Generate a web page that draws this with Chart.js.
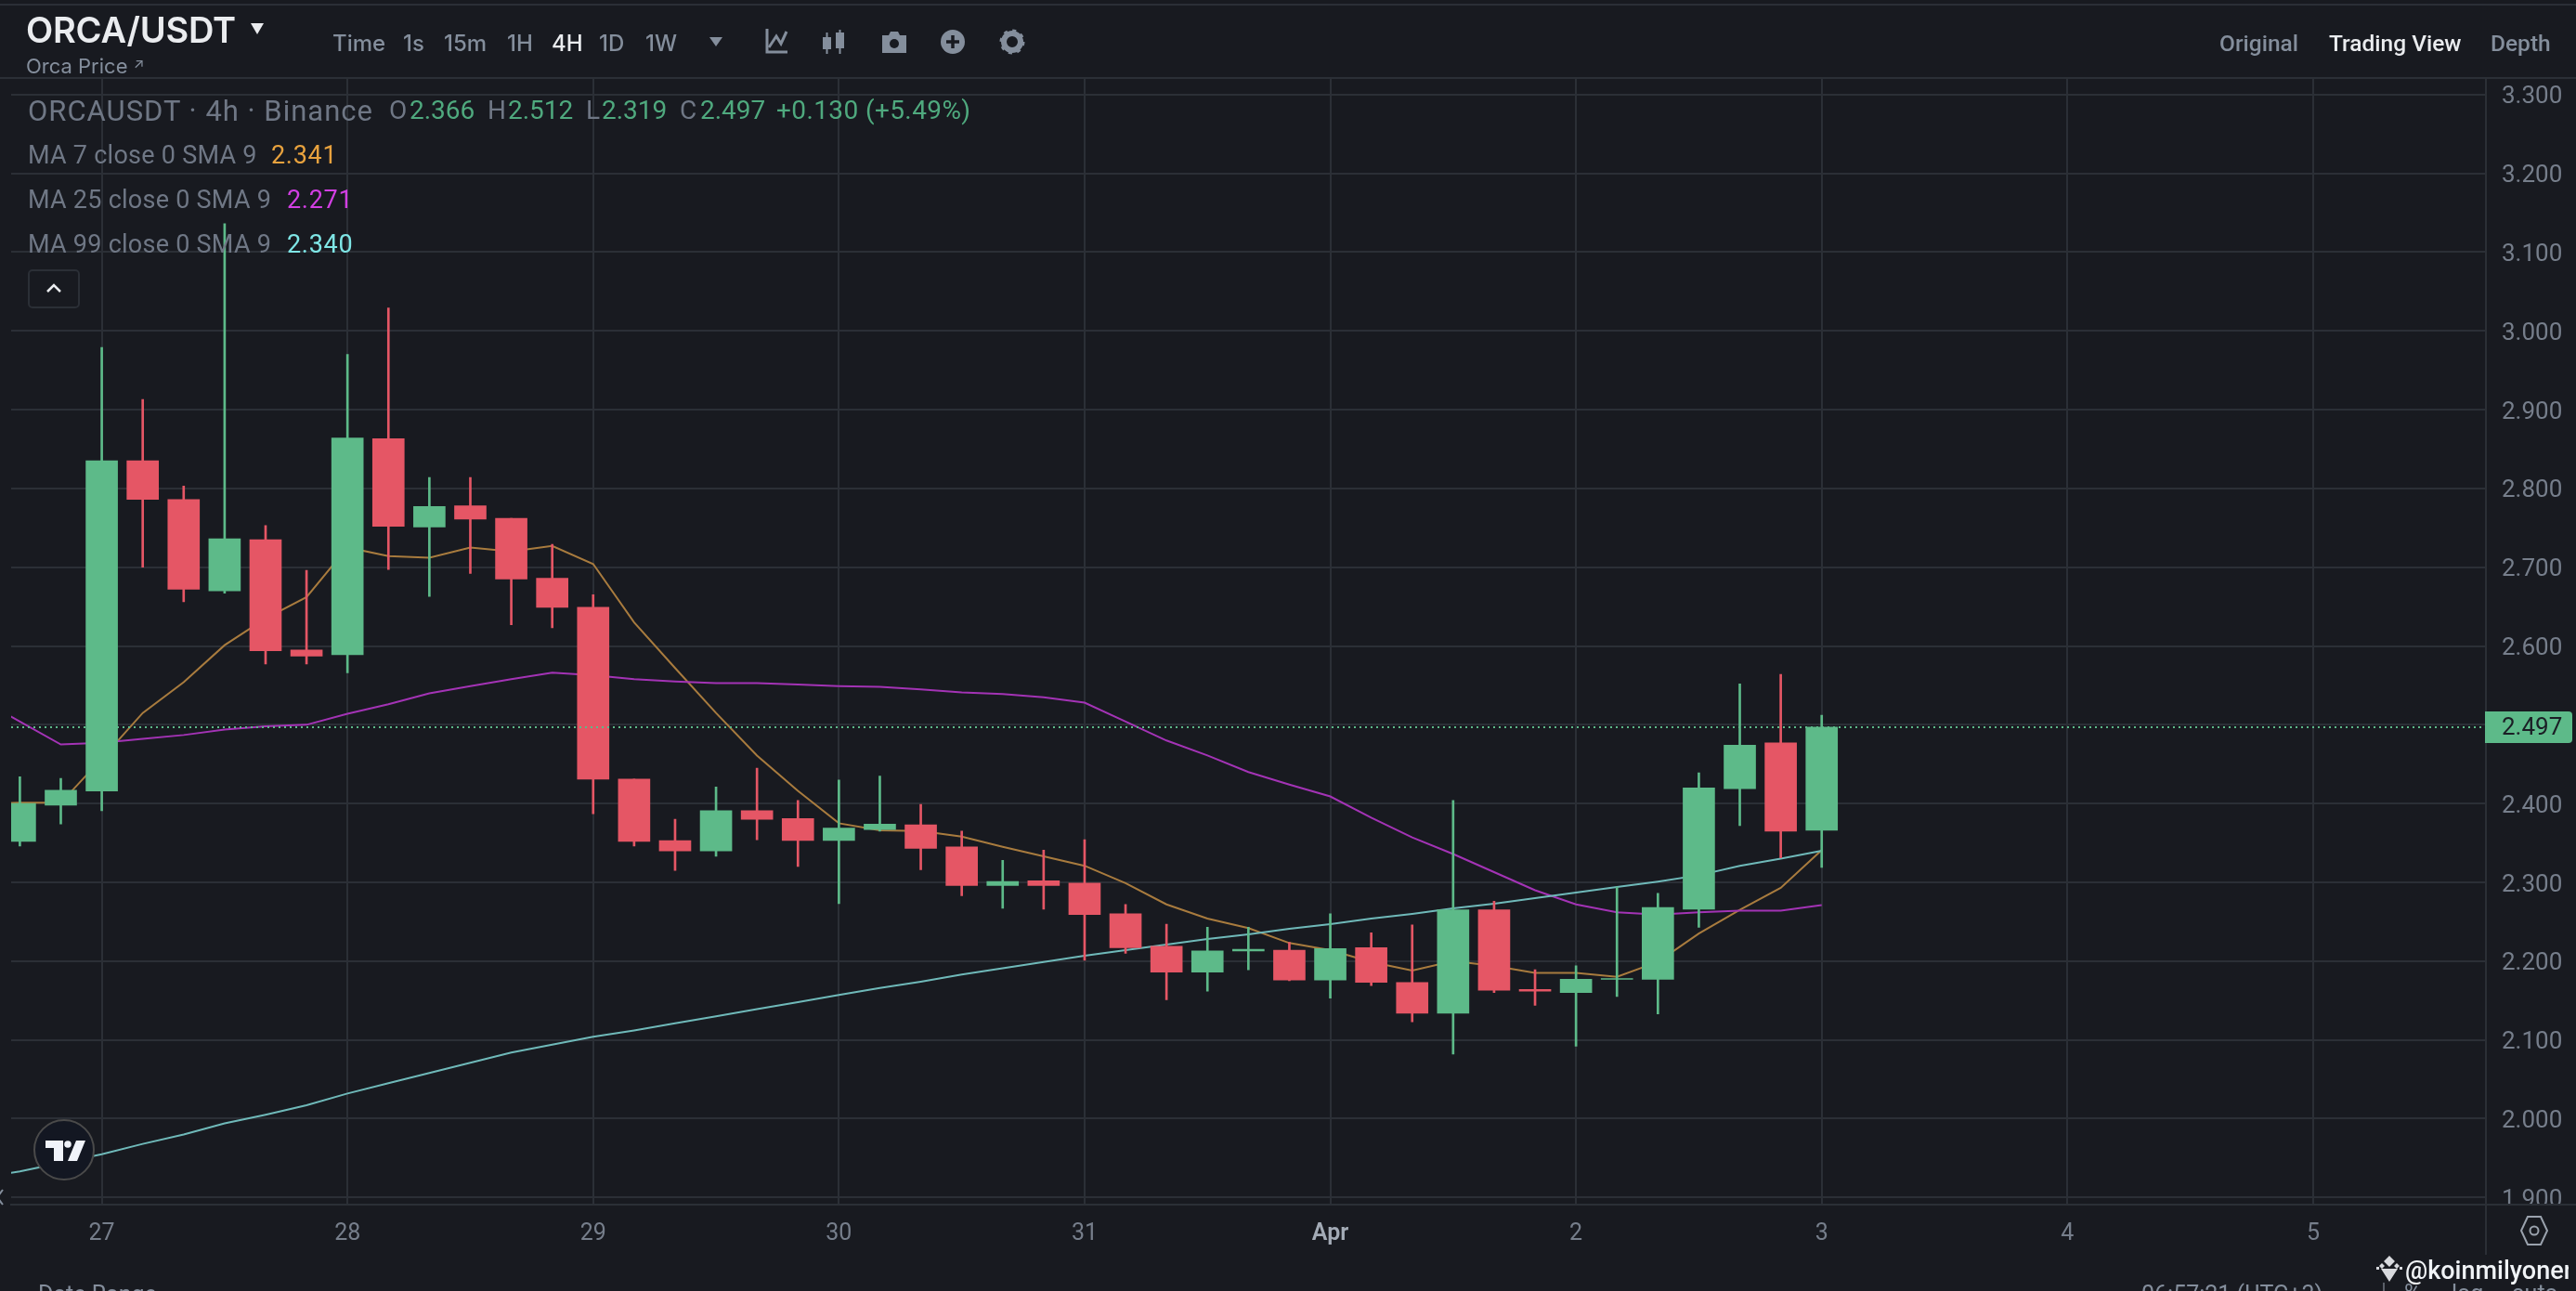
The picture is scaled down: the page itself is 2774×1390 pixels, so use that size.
<!DOCTYPE html>
<html><head><meta charset="utf-8">
<script src="https://cdn.jsdelivr.net/npm/chart.js@4"></script>
<style>
html,body{margin:0;padding:0;background:#181a20;width:2774px;height:1390px;overflow:hidden}
canvas{position:absolute;left:0;top:0}
.t{position:absolute;white-space:nowrap;transform:translateY(-50%);font-family:"Roboto",sans-serif;color:#848e9c;line-height:1}
.p{font-family:"Inter","Roboto",sans-serif;font-weight:500}
.r{font-family:"Roboto",sans-serif;font-weight:500;font-size:24.500px}
.m{font-size:27px;letter-spacing:.25px;color:#6f7785}
.v{font-size:27px;letter-spacing:.7px}
.l{position:absolute;background:#2b2f36}
svg{position:absolute;overflow:visible}
</style></head><body>
<canvas id="c" width="2774" height="1390"></canvas>

<div class="l" style="left:0;top:4px;width:2774px;height:2px"></div>
<div class="l" style="left:0;top:83px;width:2774px;height:2px"></div>
<div class="l" style="left:12px;top:1296px;width:2762px;height:2px"></div>
<div class="l" style="left:2676px;top:1296px;width:2px;height:55px"></div>

<div class="t" style="left:28px;top:32px;font:600 38px 'Inter',sans-serif;color:#eaecef;letter-spacing:-.2px">ORCA/USDT</div>
<svg style="left:270px;top:25px" width="14" height="12"><path d="M0 0H14L7 12Z" fill="#eaecef"/></svg>
<div class="t" style="left:28px;top:71px;font:400 22px 'Inter',sans-serif">Orca Price <span style="font-size:15px;vertical-align:5px">↗</span></div>

<div class="t p" style="left:358px;top:47px;font-size:24px">Time</div>
<div class="t p" style="left:434px;top:47px;font-size:24px">1s</div>
<div class="t p" style="left:478px;top:47px;font-size:24px">15m</div>
<div class="t p" style="left:546px;top:47px;font-size:24px">1H</div>
<div class="t p" style="left:594px;top:47px;font-size:24px;color:#eaecef">4H</div>
<div class="t p" style="left:645px;top:47px;font-size:24px">1D</div>
<div class="t p" style="left:695px;top:47px;font-size:24px">1W</div>
<svg style="left:764px;top:40px" width="14" height="10"><path d="M0 0H14L7 10Z" fill="#848e9c"/></svg>
<svg style="left:824px;top:31px" width="24" height="28" fill="none" stroke="#848e9c" stroke-width="3"><path d="M2 0V25H24"/><path d="M4 20L12 8L17 16L23 3"/></svg>
<svg style="left:885px;top:32px" width="28" height="26" fill="#848e9c"><rect x="1" y="8" width="9" height="13"/><rect x="4.5" y="3" width="2" height="23"/><rect x="15" y="3" width="9" height="17"/><rect x="18.500" y="0" width="2" height="26"/></svg>
<svg style="left:950px;top:33px" width="26" height="24" fill="#848e9c"><path d="M0 5H7L9 1H17L19 5H26V24H0Z"/><circle cx="13" cy="14" r="5" fill="#181a20"/></svg>
<svg style="left:1013px;top:32px" width="26" height="26"><circle cx="13" cy="13" r="13" fill="#848e9c"/><path d="M13 6V20M6 13H20" stroke="#181a20" stroke-width="3.500"/></svg>
<svg style="left:1077px;top:32px" width="26" height="26"><circle cx="13" cy="13" r="9" fill="none" stroke="#848e9c" stroke-width="6"/><circle cx="13" cy="13" r="12" fill="none" stroke="#848e9c" stroke-width="3" stroke-dasharray="4 5.400"/></svg>

<div class="t r" style="left:2390px;top:47px">Original</div>
<div class="t r" style="left:2508px;top:47px;color:#eaecef">Trading View</div>
<div class="t r" style="left:2682px;top:47px">Depth</div>

<div class="t" style="left:30px;top:119px;font-size:31px;letter-spacing:1px;color:#6f7785">ORCAUSDT · 4h · Binance</div>
<div id="ohlc"></div>
<div class="t m" style="left:30px;top:167px">MA 7 close 0 SMA 9</div>
<div class="t v" style="left:292px;top:167px;color:#e8a23e">2.341</div>
<div class="t m" style="left:30px;top:215px">MA 25 close 0 SMA 9</div>
<div class="t v" style="left:309px;top:215px;color:#d23fe3">2.271</div>
<div class="t m" style="left:30px;top:263px">MA 99 close 0 SMA 9</div>
<div class="t v" style="left:309px;top:263px;color:#7fe6e6">2.340</div>
<div style="position:absolute;left:30px;top:290px;width:56px;height:42px;border:2px solid #2b2f36;border-radius:5px;box-sizing:border-box;background:#181a20"></div>
<svg style="left:50px;top:305px" width="16" height="10" fill="none" stroke="#eaecef" stroke-width="2.500"><path d="M1 9L8 2L15 9"/></svg>

<svg style="left:36px;top:1205px" width="66" height="66"><circle cx="33" cy="33" r="32" fill="#131722" stroke="#4a4a4a" stroke-width="2"/>
<path d="M13 23H32V45H22V31H13Z M46 23H56L47 45H37Z" fill="#f0f3fa"/><circle cx="37" cy="27" r="3.800" fill="#f0f3fa"/></svg>

<svg style="left:0;top:1280px" width="4" height="18" fill="none" stroke="#848e9c" stroke-width="2"><path d="M3 1L-3 9L3 17"/></svg>

<svg style="left:2714px;top:1309px" width="30" height="32" fill="none" stroke="#9aa2ad" stroke-width="2"><path d="M8 1H22L29 16L22 31H8L1 16Z"/><circle cx="15" cy="16" r="4.500"/></svg>

<div class="t" style="left:41px;top:1393px;font-size:25px">Date Range ⌄</div>
<div class="t" style="left:2306px;top:1393px;font-size:25px">06:57:21 (UTC+3)</div>
<div class="l" style="left:2566px;top:1377px;width:2px;height:20px;background:#5a5f68"></div>
<div class="t" style="left:2589px;top:1392px;font-size:25px">%</div>
<div class="t" style="left:2640px;top:1392px;font-size:25px">log</div>
<div class="t" style="left:2705px;top:1392px;font-size:25px">auto</div>

<div style="position:absolute;left:2558px;top:1351px;width:216px;height:30px;background:#181a20"></div>
<svg style="left:2559px;top:1352px" width="28" height="28" fill="#d8dade"><path d="M14 0L20 6L14 12L8 6Z M6 8L9 11L6 14L3 11Z M22 8L25 11L22 14L19 11Z M14 14L23 14L14 28L5 14Z"/><rect x="0" y="12" width="3" height="3"/><rect x="25" y="12" width="3" height="3"/></svg>
<div style="position:absolute;left:2590px;top:1352px;width:176px;height:32px;overflow:hidden;font:500 27px/32px 'Roboto',sans-serif;color:#f0f3f6;white-space:nowrap">@koinmilyoner</div>

<script>
// Candle slot: 0 is the 27th at 00:00, six 4h candles per day.
const firstCandle = -2;
const opens  = [2.352,2.398,2.416,2.835,2.786,2.670,2.735,2.595,2.589,2.863,2.751,2.778,2.762,2.686,2.649,2.431,2.353,2.340,2.391,2.381,2.353,2.367,2.373,2.345,2.296,2.302,2.299,2.260,2.219,2.186,2.213,2.214,2.176,2.217,2.173,2.134,2.265,2.164,2.160,2.177,2.177,2.266,2.419,2.477,2.366];
const highs  = [2.434,2.432,2.979,2.913,2.803,3.136,2.753,2.696,2.970,3.029,2.814,2.814,2.762,2.729,2.665,2.431,2.380,2.421,2.445,2.404,2.430,2.435,2.399,2.365,2.328,2.341,2.354,2.272,2.247,2.243,2.243,2.224,2.260,2.236,2.246,2.404,2.276,2.189,2.194,2.294,2.286,2.439,2.552,2.564,2.512];
const lows   = [2.346,2.374,2.391,2.700,2.656,2.667,2.577,2.577,2.566,2.697,2.663,2.692,2.627,2.623,2.387,2.346,2.315,2.333,2.354,2.320,2.273,2.365,2.316,2.283,2.267,2.266,2.201,2.210,2.151,2.162,2.189,2.175,2.153,2.169,2.123,2.082,2.160,2.144,2.092,2.155,2.133,2.243,2.372,2.331,2.319];
const closes = [2.400,2.417,2.835,2.786,2.672,2.736,2.594,2.587,2.864,2.752,2.777,2.761,2.685,2.649,2.431,2.352,2.340,2.391,2.380,2.353,2.369,2.374,2.343,2.296,2.301,2.296,2.259,2.217,2.186,2.213,2.215,2.176,2.216,2.173,2.134,2.265,2.163,2.162,2.177,2.178,2.268,2.420,2.474,2.365,2.497];
const firstAverage = -3;
const ma7  = [2.400,2.401,2.401,2.457,2.515,2.554,2.601,2.635,2.662,2.725,2.714,2.712,2.725,2.720,2.727,2.704,2.630,2.572,2.515,2.461,2.416,2.375,2.366,2.365,2.358,2.345,2.333,2.321,2.299,2.272,2.254,2.242,2.223,2.214,2.199,2.188,2.200,2.194,2.185,2.185,2.180,2.199,2.235,2.265,2.293,2.341];
const ma25 = [2.533,2.504,2.475,2.477,2.482,2.487,2.494,2.498,2.500,2.514,2.526,2.540,2.549,2.558,2.566,2.563,2.558,2.555,2.553,2.553,2.551,2.549,2.548,2.545,2.541,2.539,2.535,2.528,2.504,2.480,2.461,2.440,2.424,2.409,2.382,2.357,2.336,2.313,2.290,2.272,2.262,2.259,2.262,2.264,2.264,2.271];
const ma99 = [1.925,1.933,1.944,1.955,1.968,1.980,1.994,2.005,2.017,2.032,2.045,2.058,2.071,2.084,2.094,2.104,2.112,2.121,2.130,2.139,2.148,2.157,2.166,2.174,2.183,2.191,2.199,2.207,2.214,2.221,2.228,2.234,2.241,2.247,2.254,2.260,2.267,2.273,2.280,2.287,2.294,2.301,2.309,2.321,2.330,2.340];
const dateSlots  = [0,6,12,18,24,30,36,42,48,54];
const dateLabels = ["27","28","29","30","31","Apr","2","3","4","5"];
const priceTicks = [1.9,2.0,2.1,2.2,2.3,2.4,2.5,2.6,2.7,2.8,2.9,3.0,3.1,3.2,3.3];
const ohlcLegend = [["O",419,"2.366"],["H",525,"2.512"],["L",631,"2.319"],["C",732,"2.497"]];
const changeText = "+0.130 (+5.49%)";

const BG="#181a20",GRID="#2b2f36",UP="#5dba89",DOWN="#e55665",AXIS="#767e8b";
const last = closes[closes.length-1];

// OHLC legend row
document.getElementById("ohlc").innerHTML = ohlcLegend.map(([k,x,v]) =>
  `<div class="t" style="left:${x}px;top:119px;font-size:28px;color:#6f7785">${k}</div>`+
  `<div class="t" style="left:${x+(k==="L"?17:22)}px;top:119px;font-size:28px;color:#4fa97e">${v}</div>`).join("")+
  `<div class="t" style="left:836px;top:119px;font-size:28px;letter-spacing:.4px;color:#4fa97e">${changeText}</div>`;

const slot = i => i + firstCandle;
const colours = closes.map((c,i)=> c>=opens[i] ? UP : DOWN);
const line = (vals,color)=>({type:"line",data:vals.map((y,i)=>({x:i+firstAverage,y})),borderColor:color,borderWidth:2,pointRadius:0,tension:0,order:5});

const lastTag = {id:"lastTag",afterDraw(chart){
  const c=chart.ctx,y=chart.scales.y.getPixelForValue(last);
  c.save();
  c.fillStyle=BG;c.fillRect(2678,1298,96,52);
  c.fillStyle=UP;c.beginPath();c.roundRect(2676,y-17,94,34,[0,4,4,0]);c.fill();
  c.fillStyle="#1b1e25";c.font="26px Roboto";c.textAlign="left";c.textBaseline="middle";
  c.fillText(last.toFixed(3),2694,y+2);
  c.restore();
}};

new Chart(document.getElementById("c"),{
  data:{datasets:[
    {type:"line",data:[{x:-2.213,y:last},{x:58.22,y:last}],borderColor:UP,borderWidth:2,borderDash:[2,4],pointRadius:0,order:0},
    {type:"bar",data:closes.map((c,i)=>({x:slot(i),y:[opens[i],c]})),backgroundColor:colours,barThickness:34,grouped:false,order:1},
    {type:"bar",data:closes.map((c,i)=>({x:slot(i),y:[lows[i],highs[i]]})),backgroundColor:colours,barThickness:2,grouped:false,order:2},
    line(ma99,"#6fb9b9"),
    line(ma25,"#a333b5"),
    line(ma7,"#a87b3e")
  ]},
  options:{
    responsive:false,animation:false,devicePixelRatio:1,
    layout:{padding:{left:12,top:84,right:0,bottom:0}},
    plugins:{legend:{display:false},tooltip:{enabled:false}},
    scales:{
      x:{type:"linear",min:-2.213,max:58.22,offset:false,
        afterBuildTicks:s=>{s.ticks=dateSlots.map(v=>({value:v}))},
        afterFit:s=>{s.height=93.3},
        grid:{color:GRID,lineWidth:2,drawTicks:false,offset:false},
        border:{color:GRID,width:2},
        ticks:{autoSkip:false,maxRotation:0,padding:17,
          callback:v=>dateLabels[dateSlots.indexOf(v)],
          color:ctx=>dateLabels[ctx.index]==="Apr"?"#a3abb6":AXIS,
          font:ctx=>({family:"Roboto",size:25,weight:dateLabels[ctx.index]==="Apr"?"600":"400"})}},
      y:{position:"right",min:1.89131,max:3.32086,
        afterBuildTicks:s=>{s.ticks=priceTicks.map(v=>({value:v}))},
        afterFit:s=>{s.width=97},
        grid:{color:GRID,lineWidth:2,drawTicks:false},
        border:{color:GRID,width:2},
        ticks:{autoSkip:false,padding:17,labelOffset:3,color:AXIS,font:{family:"Roboto",size:26},callback:v=>v.toFixed(3)}}
    }
  },
  plugins:[lastTag]
});
</script>
</body></html>
